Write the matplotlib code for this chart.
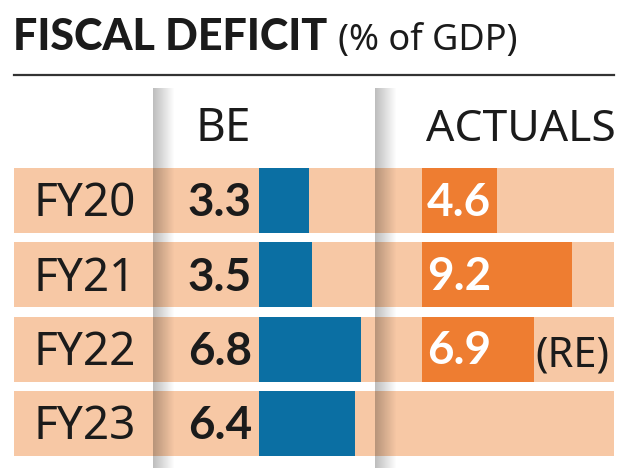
import numpy as np
import matplotlib
matplotlib.use("Agg")
import matplotlib.pyplot as plt

years = ["FY20", "FY21", "FY22", "FY23"]
be = [3.3, 3.5, 6.8, 6.4]
actuals = [4.6, 9.2, 6.9]
actual_notes = ["", "", "(RE)"]

PEACH = "#F7C8A5"
BLUE = "#0B6FA3"
ORANGE = "#EE7D31"
INK = "#1b1b1b"

plt.rcParams["font.family"] = ["Noto Sans", "DejaVu Sans"]
BOLD = ["Lato", "DejaVu Sans"]

fig = plt.figure(figsize=(6.3, 4.68), dpi=100)
ax = fig.add_axes([0, 0, 1, 1])
ax.set_xlim(0, 630)
ax.set_ylim(468, 0)
ax.axis("off")

# pixel layout
row_y = 200.5 + 74.3 * np.arange(len(years))
row_h = 65
be_x0, be_scale = 259, 15.0
act_x0, act_scale = 422, 16.3

ax.barh(row_y, 600, left=14, height=row_h, color=PEACH, zorder=1)
ax.barh(row_y, np.array(be) * be_scale, left=be_x0, height=row_h, color=BLUE, zorder=2)
ax.barh(row_y[:len(actuals)], np.array(actuals) * act_scale, left=act_x0,
        height=row_h, color=ORANGE, zorder=2)

# shaded column dividers
shade = np.zeros((1, 24, 4))
shade[0, :, 3] = np.linspace(0.26, 0.0, 24)
for x0 in (153, 375):
    ax.imshow(shade, extent=[x0, x0 + 22, 468, 88], aspect="auto",
              interpolation="bilinear", zorder=3)

for y, yr, v in zip(row_y, years, be):
    ax.text(85, y + 16, yr, ha="center", va="baseline", fontsize=33, color=INK, zorder=4)
    ax.text(252, y + 16, f"{v:.1f}", ha="right", va="baseline", fontsize=33,
            fontweight="bold", family=BOLD, color=INK, zorder=4)

for y, v, note in zip(row_y, actuals, actual_notes):
    ax.text(427, y + 15, f"{v:.1f}", ha="left", va="baseline", fontsize=33,
            fontweight="bold", family=BOLD, color="white", zorder=4)
    if note:
        ax.text(535, y + 17, note, ha="left", va="baseline", fontsize=30, color=INK, zorder=4)

ax.text(251, 141, "BE", ha="right", va="baseline", fontsize=33, color=INK)
ax.text(426, 141, "ACTUALS", ha="left", va="baseline", fontsize=32, color=INK)

ax.text(13, 50, "FISCAL DEFICIT", ha="left", va="baseline", fontsize=31,
        fontweight="black", family=BOLD, color=INK)
ax.text(338, 50, "(% of GDP)", ha="left", va="baseline", fontsize=26, color=INK)

ax.plot([14, 614], [75, 75], color="#333333", lw=1.6)

ax.set_xlim(0, 630)
ax.set_ylim(468, 0)
fig.savefig("out.png", dpi=100)
